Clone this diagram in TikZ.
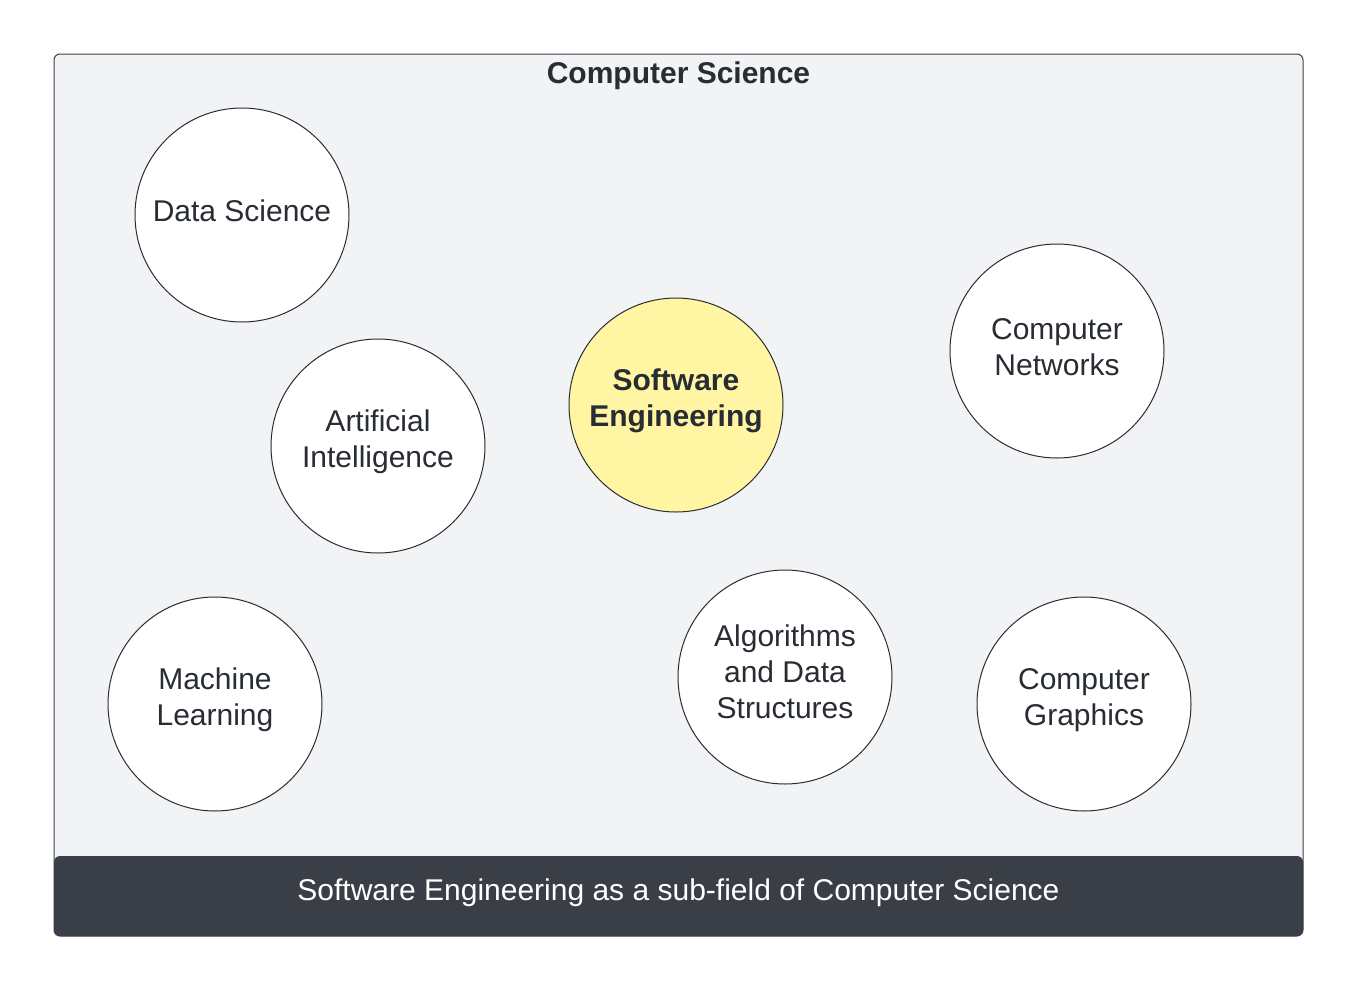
\documentclass[tikz,border=0pt]{standalone}
\usepackage{fontspec}
\setmainfont{Liberation Sans}
\definecolor{bg}{HTML}{F2F3F5}
\definecolor{dark}{HTML}{3A3F47}
\definecolor{txt}{HTML}{282C33}
\definecolor{yel}{HTML}{FFF5A3}
\begin{document}
\begin{tikzpicture}[x=1pt,y=-1pt,
  circ/.style={circle,draw=txt,line width=1pt,fill=white,minimum size=214pt,align=center,text=txt,font=\fontsize{30}{36}\selectfont,inner sep=0pt},
  lbl/.style={align=center,text=txt,font=\fontsize{30}{36}\selectfont}]
\useasboundingbox (0,0) rectangle (1358,991);
\node[draw=dark,line width=1pt,fill=bg,rounded corners=6pt,minimum width=1249pt,minimum height=882pt,inner sep=0pt] (frame) at (678.5,495) {};
\fill[dark,rounded corners=6pt] (54,856) rectangle (1303,936);
\node[text=white,font=\fontsize{30}{36}\selectfont] (cap) at (678.5,893) {Software Engineering as a sub-field of Computer Science};
\node[text=txt,font=\fontsize{30}{36}\selectfont\bfseries] (title) at (678.5,76) {Computer Science};
\node[circ] (ds) at (242,215) {};
\node[circ] (ai) at (378,446) {};
\node[circ,fill=yel] (se) at (676,405) {};
\node[circ] (cn) at (1057,351) {};
\node[circ] (ml) at (215,704) {};
\node[circ] (ads) at (785,677) {};
\node[circ] (cg) at (1084,704) {};
\node[lbl] (dsl) at (242,211) {Data Science};
\node[lbl] (ail) at (378,442) {Artificial\\Intelligence};
\node[lbl,font=\fontsize{30}{36}\selectfont\bfseries] (sel) at (676,401) {Software\\Engineering};
\node[lbl] (cnl) at (1057,347) {Computer\\Networks};
\node[lbl] (mll) at (215,700) {Machine\\Learning};
\node[lbl] (adsl) at (785,672) {Algorithms\\and Data\\Structures};
\node[lbl] (cgl) at (1084,700) {Computer\\Graphics};
\end{tikzpicture}
\end{document}
